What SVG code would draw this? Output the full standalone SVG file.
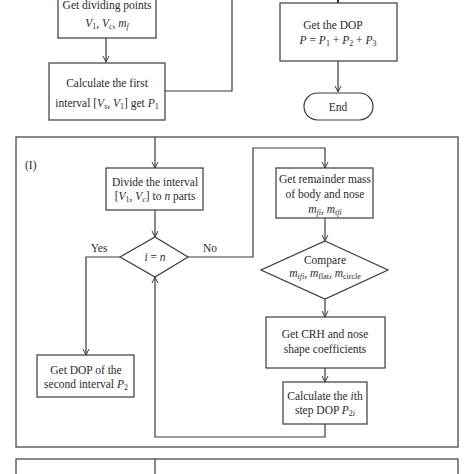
<svg xmlns="http://www.w3.org/2000/svg" width="474" height="474" viewBox="0 0 474 474">
<style>
.b{fill:#fff;stroke:#3a3a3a;stroke-width:1.2}
.f{fill:none;stroke:#3a3a3a;stroke-width:1.2}
.c{fill:none;stroke:#3a3a3a;stroke-width:1.2}
text{font-family:"Liberation Serif","Times New Roman",serif;font-size:11.5px;fill:#2a2a2a;text-anchor:middle}
.i{font-style:italic}
.s{font-size:8px}
.l{text-anchor:start}
</style>
<defs>
<marker id="a" viewBox="0 0 8 8" refX="7" refY="4" markerWidth="8" markerHeight="8" markerUnits="userSpaceOnUse" orient="auto">
<path d="M1,1 L7,4 L1,7" fill="none" stroke="#3a3a3a" stroke-width="1"/>
</marker>
</defs>
<rect x="0" y="0" width="474" height="474" fill="#fff"/>
<g id="frameI"><rect class="f" x="16" y="137" width="442" height="310"/><text class="l" x="25" y="169">(I)</text></g>
<g id="frameII"><rect class="f" x="16" y="459" width="442" height="30"/></g>
<g id="connectors">
<path class="c" d="M106,38 V62" marker-end="url(#a)"/>
<path class="c" d="M165,91 H232 V-2"/>
<path d="M338,-2 V3" stroke="#333" stroke-width="2" fill="none"/>
<path class="c" d="M338,61 V92" marker-end="url(#a)"/>
<path class="c" d="M155,137 V168" marker-end="url(#a)"/>
<path class="c" d="M155,210 V237" marker-end="url(#a)"/>
<path class="c" d="M120,257 H86 V355" marker-end="url(#a)"/>
<path class="c" d="M188,257 H253 V148 H325 V168" marker-end="url(#a)"/>
<path class="c" d="M325,218 V241" marker-end="url(#a)"/>
<path class="c" d="M325,299 V317" marker-end="url(#a)"/>
<path class="c" d="M325,368 V382" marker-end="url(#a)"/>
<path class="c" d="M325,424 V437 H155 V277" marker-end="url(#a)"/>
<path class="c" d="M155,459 V476"/>
</g>
<g id="getDividing"><rect class="b" x="58" y="-5" width="98" height="43"/>
<text x="107" y="9">Get dividing points</text>
<text x="107" y="27"><tspan class="i">V</tspan><tspan class="s" dy="2">1</tspan><tspan dy="-2">, </tspan><tspan class="i">V</tspan><tspan class="s i" dy="2">c</tspan><tspan dy="-2">, </tspan><tspan class="i">m</tspan><tspan class="s i" dy="2">f</tspan></text></g>
<g id="calcFirst"><rect class="b" x="49" y="63" width="116" height="57"/>
<text x="107" y="87">Calculate the first</text>
<text x="107" y="107">interval [<tspan class="i">V</tspan><tspan class="s i" dy="2">s</tspan><tspan dy="-2">, </tspan><tspan class="i">V</tspan><tspan class="s" dy="2">1</tspan><tspan dy="-2">] get </tspan><tspan class="i">P</tspan><tspan class="s" dy="2">1</tspan></text></g>
<g id="getDOP"><rect class="b" x="280" y="3" width="117" height="58"/>
<text x="333" y="29">Get the DOP</text>
<text x="338" y="44"><tspan class="i">P</tspan> = <tspan class="i">P</tspan><tspan class="s" dy="2">1</tspan><tspan dy="-2"> + </tspan><tspan class="i">P</tspan><tspan class="s" dy="2">2</tspan><tspan dy="-2"> + </tspan><tspan class="i">P</tspan><tspan class="s" dy="2">3</tspan></text></g>
<g id="end"><rect class="b" x="304" y="93" width="69" height="27" rx="13.5"/>
<text x="338" y="111">End</text></g>
<g id="divide"><rect class="b" x="106" y="168" width="97" height="42"/>
<text x="155" y="186">Divide the interval</text>
<text x="155" y="200">[<tspan class="i">V</tspan><tspan class="s" dy="2">1</tspan><tspan dy="-2">, </tspan><tspan class="i">V</tspan><tspan class="s i" dy="2">c</tspan><tspan dy="-2">] to </tspan><tspan class="i">n</tspan> parts</text></g>
<g id="decision"><polygon class="b" points="155,237 188,257 155,277 120,257"/>
<text x="155" y="261"><tspan class="i">i</tspan> = <tspan class="i">n</tspan></text>
<text x="99" y="252">Yes</text><text x="210" y="252">No</text></g>
<g id="remainder"><rect class="b" x="276" y="168" width="97" height="50"/>
<text x="325" y="183">Get remainder mass</text>
<text x="325" y="198">of body and nose</text>
<text x="325" y="213"><tspan class="i">m</tspan><tspan class="s i" dy="2">fi</tspan><tspan dy="-2">, </tspan><tspan class="i">m</tspan><tspan class="s i" dy="2">tfi</tspan></text></g>
<g id="compare"><polygon class="b" points="325,241 388,270 325,299 261,270"/>
<text x="325" y="264">Compare</text>
<text x="325" y="277"><tspan class="i">m</tspan><tspan class="s i" dy="2">tfi</tspan><tspan dy="-2">, </tspan><tspan class="i">m</tspan><tspan class="s" dy="2">flat</tspan><tspan dy="-2">, </tspan><tspan class="i">m</tspan><tspan class="s" dy="2">circle</tspan></text></g>
<g id="crh"><rect class="b" x="266" y="317" width="119" height="51"/>
<text x="325" y="338">Get CRH and nose</text>
<text x="325" y="353">shape coefficients</text></g>
<g id="calcIth"><rect class="b" x="283" y="382" width="84" height="42"/>
<text x="325" y="400">Calculate the <tspan class="i">i</tspan>th</text>
<text x="325" y="414">step DOP <tspan class="i">P</tspan><tspan class="s" dy="2">2<tspan class="i">i</tspan></tspan></text></g>
<g id="secondDOP"><rect class="b" x="37" y="355" width="97" height="42"/>
<text x="86" y="374">Get DOP of the</text>
<text x="86" y="388">second interval <tspan class="i">P</tspan><tspan class="s" dy="2">2</tspan></text></g>
</svg>
